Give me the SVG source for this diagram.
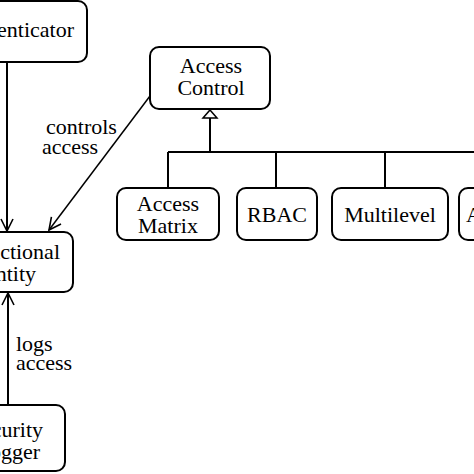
<svg xmlns="http://www.w3.org/2000/svg" width="474" height="474" viewBox="0 0 474 474">
<defs>
<style>
.box{fill:#fff;stroke:#000;stroke-width:2}
.t{font-family:"Liberation Serif","Times New Roman",serif;font-size:22px;fill:#000}
.m{text-anchor:middle}
.e{text-anchor:end}
.ln{fill:none;stroke:#000;stroke-width:2}
</style>
<marker id="open" viewBox="0 0 14 14" refX="13" refY="7" markerWidth="14" markerHeight="14" markerUnits="userSpaceOnUse" orient="auto">
<path d="M1,1 L13,7 L1,13" fill="none" stroke="#000" stroke-width="1.6"/>
</marker>
</defs>
<rect width="474" height="474" fill="#fff"/>
<g id="connectors">
<line class="ln" x1="7" y1="62" x2="7" y2="231" marker-end="url(#open)"/>
<line class="ln" x1="8" y1="405" x2="8" y2="293" marker-end="url(#open)"/>
<line x1="150" y1="96" x2="49" y2="230" stroke="#000" stroke-width="1.5" marker-end="url(#open)"/>
<path class="ln" d="M210,118 V152 M168,152 H474 M168,152 V188 M276,152 V188 M385,152 V188"/>
<polygon points="210,110 217,118 203,118" fill="#fff" stroke="#000" stroke-width="1.5"/>
<text class="t" x="46" y="134">controls</text>
<text class="t" x="42" y="154">access</text>
<text class="t" x="16" y="351">logs</text>
<text class="t" x="16" y="370">access</text>
</g>
<g id="authenticator">
<rect class="box" x="-60" y="1" width="147" height="61" rx="9"/>
<text class="t e" x="74" y="37">Authenticator</text>
</g>
<g id="access-control">
<rect class="box" x="150" y="47" width="120" height="62" rx="9"/>
<text class="t m" x="211" y="73">Access</text>
<text class="t m" x="211" y="95">Control</text>
</g>
<g id="access-matrix">
<rect class="box" x="117" y="188" width="102" height="52" rx="9"/>
<text class="t m" x="168" y="211">Access</text>
<text class="t m" x="168" y="233">Matrix</text>
</g>
<g id="rbac">
<rect class="box" x="237" y="188" width="80" height="52" rx="9"/>
<text class="t m" x="277" y="222">RBAC</text>
</g>
<g id="multilevel">
<rect class="box" x="332" y="188" width="116" height="52" rx="9"/>
<text class="t m" x="390" y="222">Multilevel</text>
</g>
<g id="fourth">
<rect class="box" x="459" y="188" width="60" height="52" rx="9"/>
<text class="t" x="466" y="222">A</text>
</g>
<g id="functional-entity">
<rect class="box" x="-60" y="232" width="133" height="60" rx="9"/>
<text class="t e" x="60" y="259">Functional</text>
<text class="t e" x="36" y="281">Entity</text>
</g>
<g id="security-logger">
<rect class="box" x="-60" y="405" width="125" height="66" rx="9"/>
<text class="t e" x="43" y="437">Security</text>
<text class="t e" x="40" y="459">Logger</text>
</g>
</svg>
